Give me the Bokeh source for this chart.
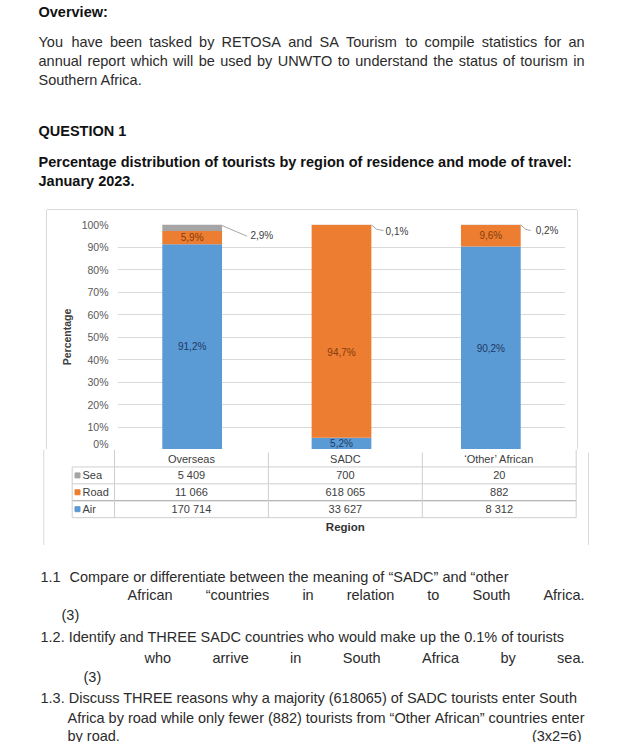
import numpy as np
from bokeh.plotting import figure
from bokeh.layouts import column, row
from bokeh.models import ColumnDataSource, Range1d, FixedTicker, Spacer
from bokeh.core.properties import value
from bokeh.embed import file_html
from bokeh.resources import INLINE

FONT = "Liberation Sans"

# ------------------------------------------------------------------ data
regions = ["Overseas", "SADC", "\u2018Other\u2019 African"]
modes = ["Air", "Road", "Sea"]              # stacked bottom -> top
air_pct = [91.2, 5.2, 90.2]
road_pct = [5.9, 94.7, 9.6]
sea_pct = [2.9, 0.1, 0.2]

table_rows = ["Sea", "Road", "Air"]
sea_count = [5409, 700, 20]
road_count = [11066, 618065, 882]
air_count = [170714, 33627, 8312]

y_ticks = [0, 10, 20, 30, 40, 50, 60, 70, 80, 90, 100]

# ------------------------------------------------------------------ style
COL = {"Air": "#5b9bd5", "Road": "#ed7d31", "Sea": "#a5a5a5"}
LAB_COL = {"Air": "#1f3864", "Road": "#843c0c"}
PAGE_W = 618


def fmt_pct(v):
    return ("%.1f" % v).replace(".", ",") + "%"


def fmt_count(v):
    return "{:,}".format(v).replace(",", " ")


# Arial / Liberation Sans advance widths (1/1000 em) for justification
AW = {" ": 278, "!": 278, "%": 889, "'": 191, "(": 333, ")": 333, ",": 278,
      "-": 333, ".": 278, ":": 278, "=": 584, "\u201c": 333, "\u201d": 333,
      "\u2018": 222, "\u2019": 222}
for c in "0123456789":
    AW[c] = 556
AW.update(dict(zip("ABCDEFGHIJKLMNOPQRSTUVWXYZ",
                   [667, 667, 722, 722, 667, 611, 778, 722, 278, 500, 667, 556, 833,
                    722, 778, 667, 778, 722, 667, 611, 722, 667, 944, 667, 667, 611])))
AW.update(dict(zip("abcdefghijklmnopqrstuvwxyz",
                   [556, 556, 500, 556, 556, 278, 556, 556, 222, 222, 500, 222, 833,
                    556, 556, 556, 556, 333, 500, 278, 556, 500, 722, 500, 500, 500])))


def text_w(s, size):
    return sum(AW.get(c, 556) for c in s) / 1000.0 * size


def justify(words, x0, x1, size):
    ws = [text_w(w, size) for w in words]
    gap = (x1 - x0 - sum(ws)) / (len(words) - 1)
    xs, x = [], x0
    for w in ws:
        xs.append(x)
        x += w + gap
    return xs


def blank_fig(h, y_top, y_bot, x_range=None, y_range=None):
    p = figure(width=PAGE_W, height=h,
               x_range=x_range if x_range is not None else Range1d(0, PAGE_W),
               y_range=y_range if y_range is not None else Range1d(y_bot, y_top),
               x_axis_location=None, y_axis_location=None, toolbar_location=None,
               output_backend="svg", min_border=0, outline_line_color=None,
               background_fill_color=None, border_fill_color=None)
    p.grid.grid_line_color = None
    return p


def put_text(p, xs, ys, texts, size, color, bold=False, align="left"):
    src = ColumnDataSource(dict(x=list(xs), y=list(ys), t=list(texts)))
    p.text(x="x", y="y", text="t", source=src, text_font=value(FONT),
           text_font_size=value(size), text_color=color,
           text_font_style="bold" if bold else "normal",
           text_align=align, text_baseline="middle")


FS = 14.5
FSS = "%.1fpx" % FS
BODY = "#2b2b2b"
BOLD = "#111111"

# ------------------------------------------------------------------ top text
top = blank_fig(210, 0, 210)
put_text(top, [38], [11], ["Overview:"], FSS, BOLD, bold=True)
para1 = "You have been tasked by RETOSA and SA Tourism to compile statistics for an".split()
para2 = "annual report which will be used by UNWTO to understand the status of tourism in".split()
put_text(top, justify(para1, 38, 584, FS), [41.3] * len(para1), para1, FSS, BODY)
put_text(top, justify(para2, 38, 584, FS), [60] * len(para2), para2, FSS, BODY)
put_text(top, [38], [79], ["Southern Africa."], FSS, BODY)
put_text(top, [38], [130], ["QUESTION 1"], FSS, BOLD, bold=True)
put_text(top, [38, 38], [161.5, 180.5],
         ["Percentage distribution of tourists by region of residence and mode of travel:",
          "January 2023."], FSS, BOLD, bold=True)

# ------------------------------------------------------------------ chart
n = len(regions)
xpos = np.arange(n) + 0.5
src = ColumnDataSource(dict(x=xpos, Air=air_pct, Road=road_pct, Sea=sea_pct))

chart = figure(width=530, height=239, x_range=Range1d(0, n), y_range=Range1d(0, 100),
               x_axis_location=None, toolbar_location=None, output_backend="svg",
               min_border_left=70, min_border_right=12, min_border_top=14,
               min_border_bottom=0, outline_line_color=None,
               background_fill_color="white", border_fill_color="white")
chart.styles = {"box-shadow": "-1px 0 0 #d9d9d9, 1px 0 0 #d9d9d9, 0 -1px 0 #d9d9d9"}

chart.ygrid.grid_line_color = "#d9d9d9"
chart.xgrid.grid_line_color = None
ax = chart.yaxis[0]
ax.ticker = FixedTicker(ticks=y_ticks)
ax.major_label_overrides = {t: "%d%%" % t for t in y_ticks}
ax.axis_line_color = None
ax.major_tick_line_color = None
ax.minor_tick_line_color = None
ax.major_tick_out = 0
ax.major_tick_in = 0
ax.major_label_standoff = 9
ax.major_label_text_font = FONT
ax.major_label_text_font_size = "10.5px"
ax.major_label_text_color = "#595959"
ax.axis_label = "Percentage"
ax.axis_label_text_font = FONT
ax.axis_label_text_font_size = "10.5px"
ax.axis_label_text_font_style = "bold"
ax.axis_label_text_color = "#404040"
ax.axis_label_standoff = 6

chart.vbar_stack(modes, x="x", width=0.4, source=src,
                 fill_color=[COL[m] for m in modes], line_color=None)

# labels inside bars (centre of each segment)
road_label_shift = [0, -9.3, 0]
lx, ly, lt, lc = [], [], [], []
for i in range(n):
    lx.append(xpos[i]); ly.append(air_pct[i] / 2.0)
    lt.append(fmt_pct(air_pct[i])); lc.append(LAB_COL["Air"])
    lx.append(xpos[i]); ly.append(air_pct[i] + road_pct[i] / 2.0 + road_label_shift[i])
    lt.append(fmt_pct(road_pct[i])); lc.append(LAB_COL["Road"])
lsrc = ColumnDataSource(dict(x=lx, y=ly, t=lt, c=lc))
chart.text(x="x", y="y", text="t", text_color="c", source=lsrc, text_font=value(FONT),
           text_font_size=value("10px"), text_align="center", text_baseline="middle")

# sea labels outside with leader lines
sea_dx = [0.39, 0.295, 0.30]
sea_y = [95.1, 96.9, 97.3]
sx = [xpos[i] + sea_dx[i] for i in range(n)]
chart.text(x=sx, y=sea_y, text=[fmt_pct(v) for v in sea_pct], text_color="#404040",
           text_font=value(FONT), text_font_size=value("10px"),
           text_align="left", text_baseline="middle")
lead_xs = [[xpos[0] + 0.2, xpos[0] + 0.368],
           [xpos[1] + 0.2, xpos[1] + 0.235, xpos[1] + 0.281],
           [xpos[2] + 0.2, xpos[2] + 0.232, xpos[2] + 0.266]]
lead_ys = [[99.5, 94.8], [99.9, 97.9, 97.3], [99.8, 97.9, 97.3]]
chart.multi_line(xs=lead_xs, ys=lead_ys, line_color="#a6a6a6", line_width=1)

chart_row = row(Spacer(width=47, height=239), chart, Spacer(width=41, height=239))

# ------------------------------------------------------------------ data table
COL_X0, COL_W = 114.0, 153.9      # x of first column border, column width
ROW_Y0, ROW_H = 458.0, 16.9       # y of header row centre, row height


def tx(px):
    return (px - COL_X0) / COL_W


def ty(py):
    return (py - ROW_Y0) / ROW_H


table = blank_fig(96, 449, 545, x_range=Range1d(tx(0), tx(PAGE_W)),
                  y_range=Range1d(ty(545), ty(449)))
leg_l = tx(71.7)
hy = [0.5, 1.5, 2.5, 3.5]
table.segment(x0=[leg_l] * 4, x1=[n] * 4, y0=hy, y1=hy,
              line_color=["#cfcfcf", "#cfcfcf", "#9e9e9e", "#cfcfcf"], line_width=1)
table.segment(x0=[0, 1, 2, 3, leg_l], x1=[0, 1, 2, 3, leg_l],
              y0=[ty(449), ty(452), ty(452), ty(449), 0.5], y1=[3.5] * 5,
              line_color="#cfcfcf", line_width=1)
table.segment(x0=[tx(43.3), tx(588)], x1=[tx(43.3), tx(588)],
              y0=[ty(449), ty(452)], y1=[ty(545), ty(545)],
              line_color="#d9d9d9", line_width=1)
put_text(table, xpos, [0] * n, regions, "11px", "#404040", align="center")
counts = {"Sea": sea_count, "Road": road_count, "Air": air_count}
for r, name in enumerate(table_rows, start=1):
    put_text(table, xpos, [r] * n, [fmt_count(v) for v in counts[name]], "11px",
             "#404040", align="center")
table.scatter(x=[tx(77)] * 3, y=[1, 2, 3], marker="square", size=5,
              color=[COL[m] for m in table_rows])
put_text(table, [tx(82)] * 3, [1, 2, 3], table_rows, "11px", "#404040")
put_text(table, [n / 2.0], [ty(526)], ["Region"], "11.5px", "#333333", bold=True,
         align="center")

# ------------------------------------------------------------------ bottom text
bot = blank_fig(197, 545, 742)
put_text(bot, [40, 69], [576.5, 576.5],
         ["1.1", "Compare or differentiate between the meaning of \u201cSADC\u201d and \u201cother"],
         FSS, BODY)
w2 = ["African", "\u201ccountries", "in", "relation", "to", "South", "Africa."]
put_text(bot, justify(w2, 127, 584, FS), [594] * len(w2), w2, FSS, BODY)
put_text(bot, [61], [614], ["(3)"], FSS, BODY)
put_text(bot, [40], [636.5],
         ["1.2. Identify and THREE SADC countries who would make up the 0.1% of tourists"],
         FSS, BODY)
w5 = ["who", "arrive", "in", "South", "Africa", "by", "sea."]
put_text(bot, justify(w5, 144, 584, FS), [657.5] * len(w5), w5, FSS, BODY)
put_text(bot, [83], [676], ["(3)"], FSS, BODY)
put_text(bot, [40], [697.5],
         ["1.3. Discuss THREE reasons why a majority (618065) of SADC tourists enter South"],
         FSS, BODY)
w8 = ("Africa by road while only fewer (882) tourists from \u201cOther African\u201d "
      "countries enter").split()
put_text(bot, justify(w8, 67, 584, FS), [717] * len(w8), w8, FSS, BODY)
put_text(bot, [67], [735], ["by road."], FSS, BODY)
put_text(bot, [581], [735], ["(3x2=6)"], FSS, BODY, align="right")

page = column(top, chart_row, table, bot)
open("out.html", "w").write(file_html(page, INLINE))
